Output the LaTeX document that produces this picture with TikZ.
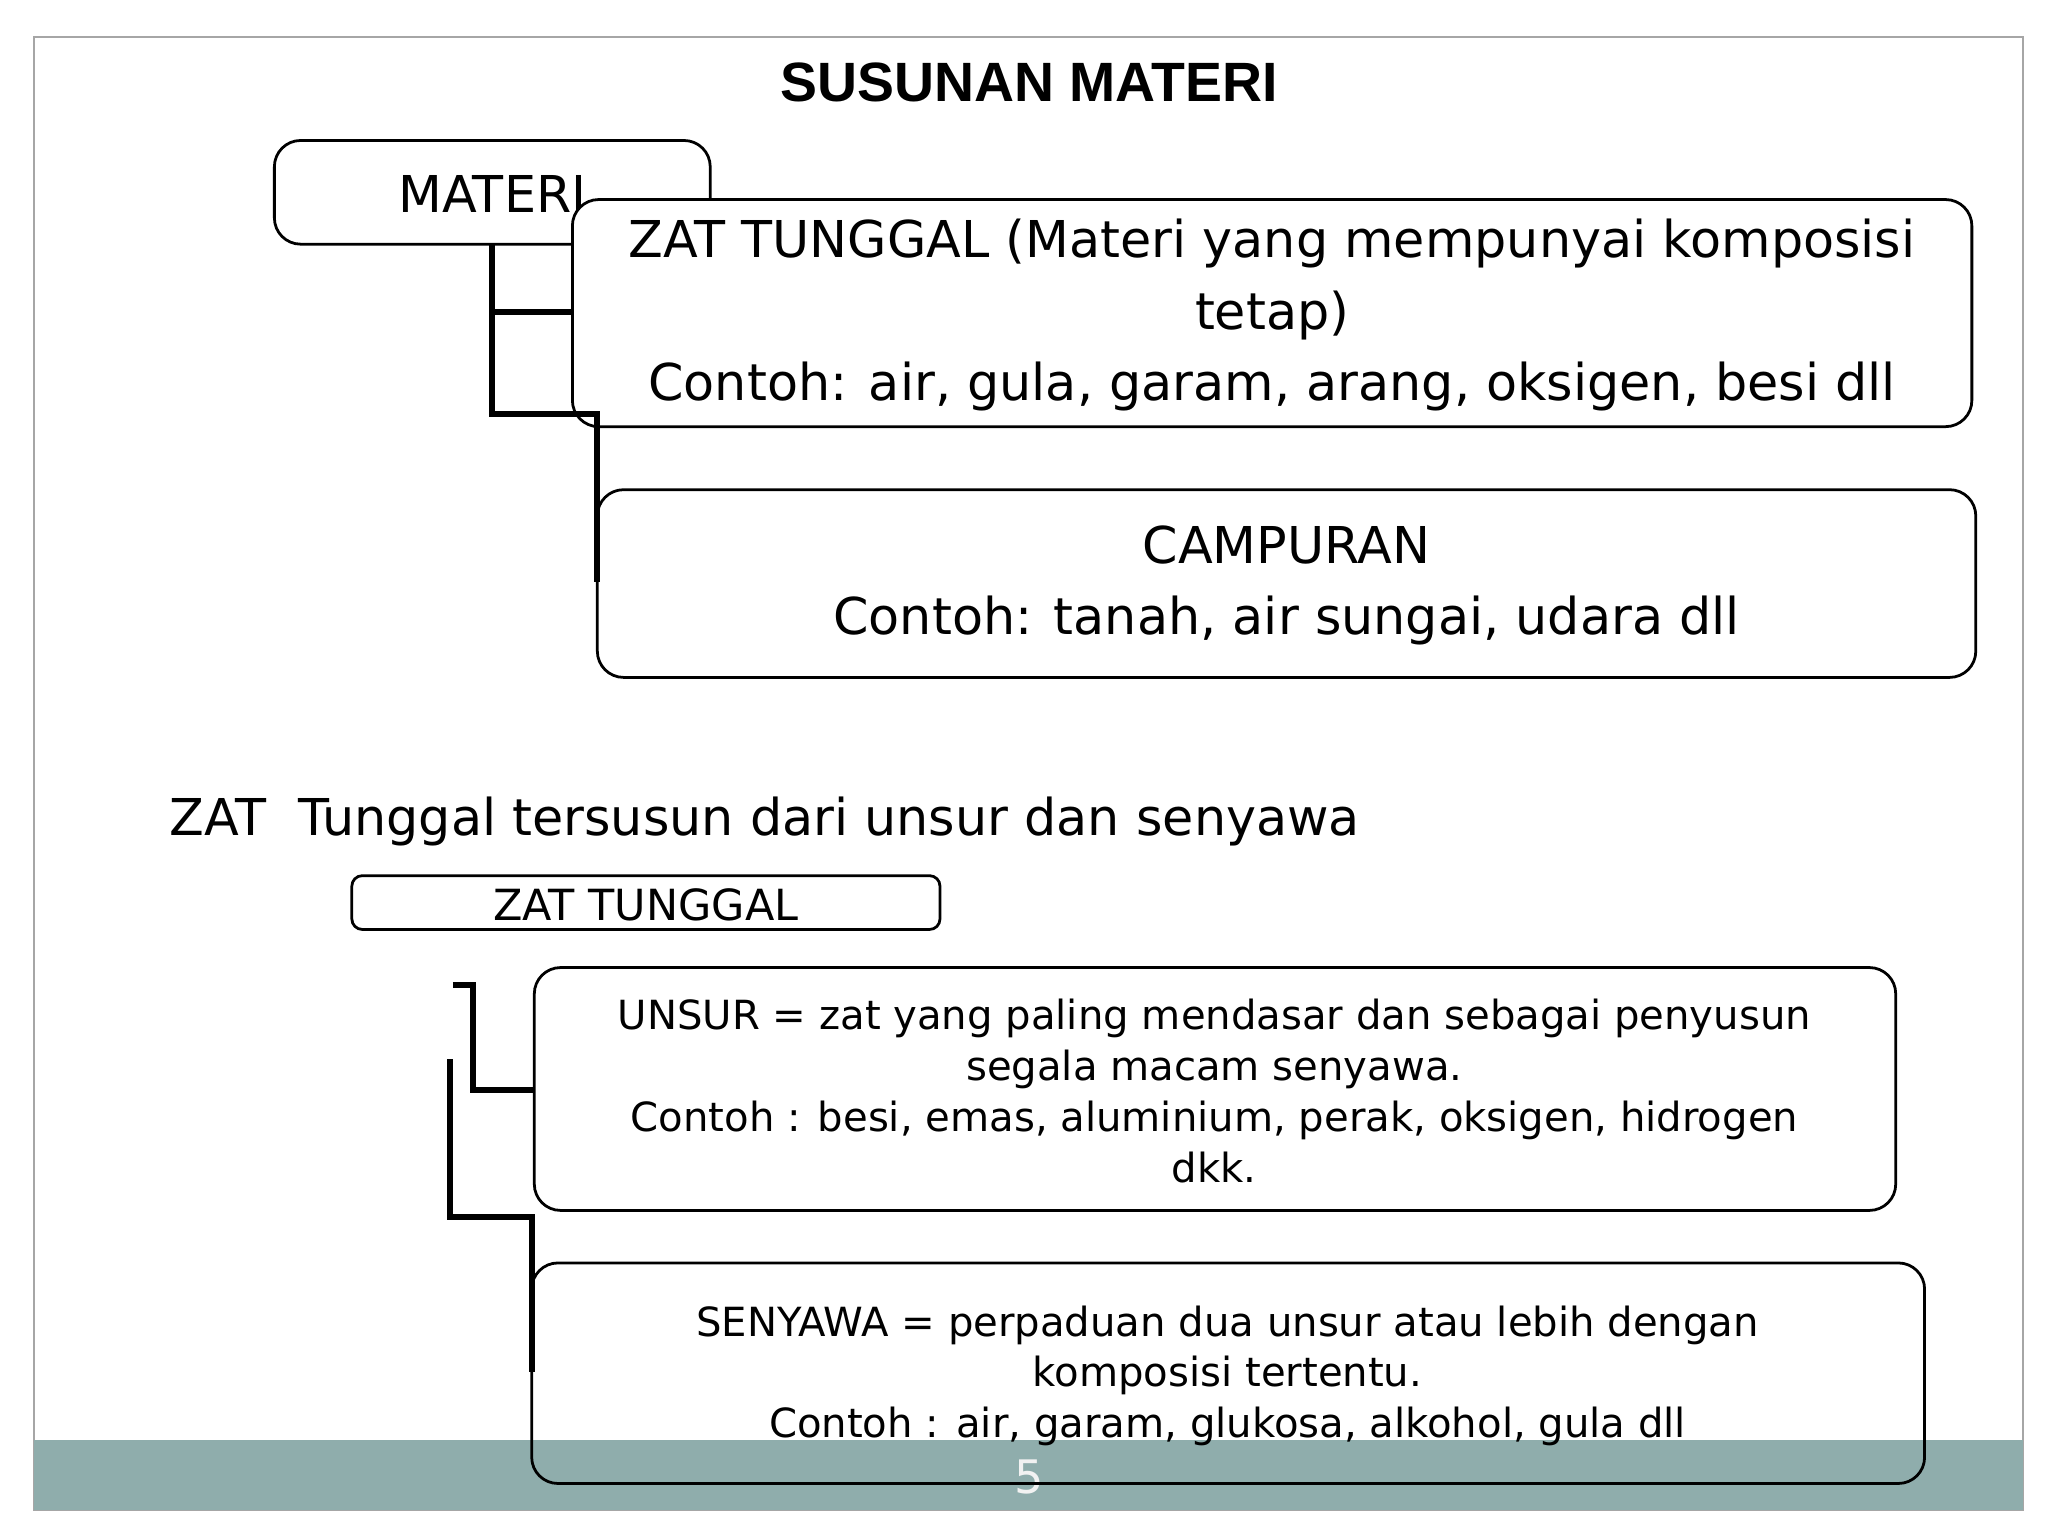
\documentclass[tikz,border=0pt]{standalone}
\usepackage{fontspec}
\setmainfont{DejaVu Sans}
\newfontfamily\titlefont{Liberation Sans}
\begin{document}
\begin{tikzpicture}[x=0.01cm,y=-0.01cm,
  box/.style={draw,rounded corners=0.2cm,line width=0.6pt},
  conn/.style={line width=1.3pt},
  big/.style={font=\fontsize{11pt}{15.5pt}\selectfont,align=center},
  small/.style={font=\fontsize{8.7pt}{11pt}\selectfont,align=center}]
\useasboundingbox (0,0) rectangle (1560,1170);
\fill[white] (0,0) rectangle (1560,1170);
\draw[gray!70,line width=0.5pt] (26,28) rectangle (1541,1150);
\fill[fill={rgb,255:red,143;green,173;blue,172}] (26,1097) rectangle (1541,1150);
\node[text=white!90!gray,font=\fontsize{10pt}{12pt}\selectfont] (pg) at (784,1125) {5};
\node[font=\titlefont\bfseries\fontsize{12pt}{14pt}\selectfont] (title) at (784,63) {SUSUNAN MATERI};
% top
\draw[box] (209,107) rectangle (541,186);
\node[big] (mat) at (375,148) {MATERI};
\coordinate (matb) at (375,186);
\draw[box,fill=white] (436,152) rectangle (1502,325);
\node[big] (zt) at (969,240) {ZAT TUNGGAL (Materi yang mempunyai komposisi\\tetap)\\Contoh: air, gula, garam, arang, oksigen, besi dll};
\draw[box] (455,373) rectangle (1505,516);
\node[big] (cp) at (980,446) {CAMPURAN\\Contoh: tanah, air sungai, udara dll};
\draw[conn] (matb) -- (375,315) -- (455,315) -- (455,443);
\draw[conn] (375,238) -- (436,238);
% bottom
\node[big,anchor=west] (sub) at (117,626) {ZAT\ \ Tunggal tersusun dari unsur dan senyawa};
\draw[box,rounded corners=0.08cm] (268,667) rectangle (716,708);
\node[small,font=\fontsize{9.3pt}{11pt}\selectfont] (zt2) at (492,689) {ZAT TUNGGAL};
\draw[box] (407,737) rectangle (1444,922);
\node[small] (un) at (925,831) {UNSUR = zat yang paling mendasar dan sebagai penyusun\\segala macam senyawa.\\Contoh : besi, emas, aluminium, perak, oksigen, hidrogen\\dkk.};
\draw[box] (405,962) rectangle (1466,1130);
\node[small] (sy) at (935,1048) {SENYAWA = perpaduan dua unsur atau lebih dengan\\komposisi tertentu.\\Contoh : air, garam, glukosa, alkohol, gula dll};
\draw[conn] (345,750) -- (360,750) -- (360,830) -- (407,830);
\draw[conn] (343,807) -- (343,927) -- (405,927) -- (405,1045);
\end{tikzpicture}
\end{document}
